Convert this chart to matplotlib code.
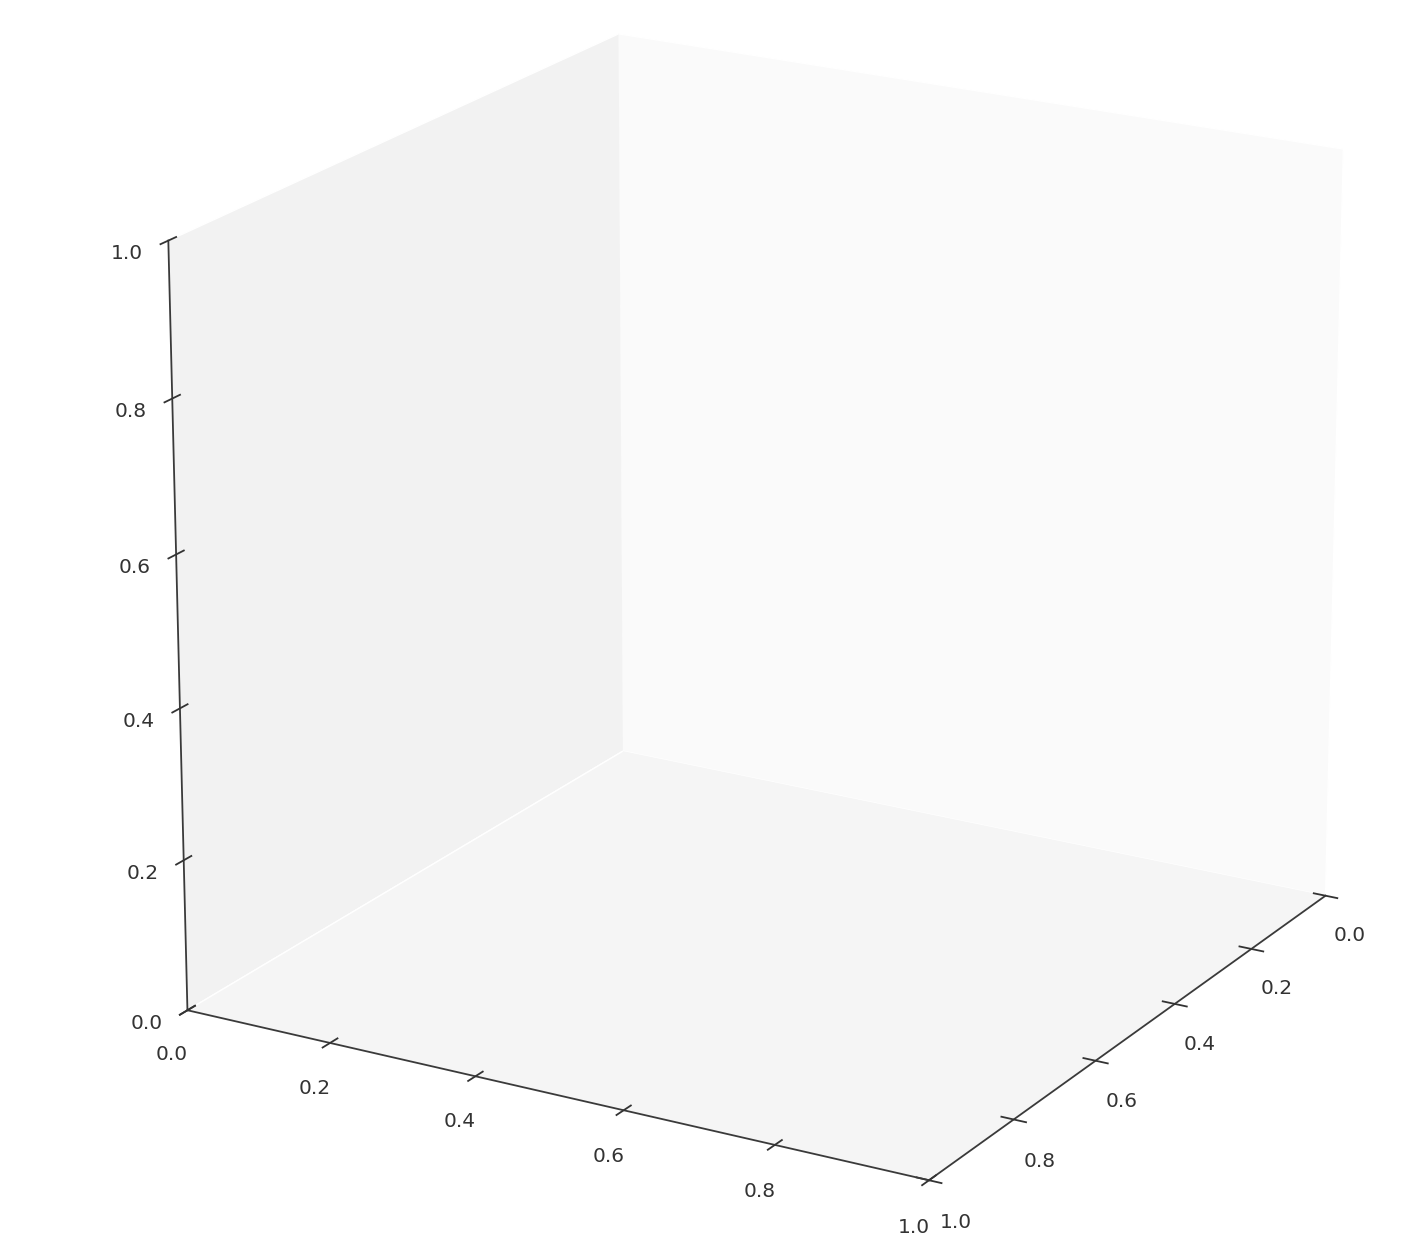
import matplotlib
matplotlib.use("Agg")
import matplotlib.pyplot as plt
import numpy as np

x_ticks = [0.0, 0.2, 0.4, 0.6, 0.8, 1.0]
y_ticks = [0.0, 0.2, 0.4, 0.6, 0.8, 1.0]
z_ticks = [0.0, 0.2, 0.4, 0.6, 0.8, 1.0]

fig = plt.figure(figsize=(14.22, 12.44), dpi=100)
ax = fig.add_axes([0.027, 0.021, 1.0, 1.0], projection="3d")
ax.set_proj_type("persp", focal_length=1.25)
ax.set_box_aspect((4, 4, 3.8), zoom=1.125)
ax.view_init(elev=19.5, azim=30)
ax.set_xlim(0, 1)
ax.set_ylim(0, 1)
ax.set_zlim(0, 1)
ax.set_xticks(x_ticks)
ax.set_yticks(y_ticks)
ax.set_zticks(z_ticks)
ax.grid(False)
ax.xaxis.set_pane_color("#fafafa")
ax.yaxis.set_pane_color("#f2f2f2")
ax.zaxis.set_pane_color("#f5f5f5")
for a in (ax.xaxis, ax.yaxis, ax.zaxis):
    a.pane.set_edgecolor((1, 1, 1, 0))
    a.line.set_color("#3a3a3a")
    a.line.set_linewidth(1.3)
    a._axinfo["tick"]["inward_factor"] = 0.2
    a._axinfo["tick"]["outward_factor"] = 0.2
    a._axinfo["tick"]["linewidth"] = {True: 1.3, False: 1.0}
ax.tick_params(labelsize=14.5, colors="#333333", pad=8, width=1.3)
fig.savefig("out.png", dpi=100)
